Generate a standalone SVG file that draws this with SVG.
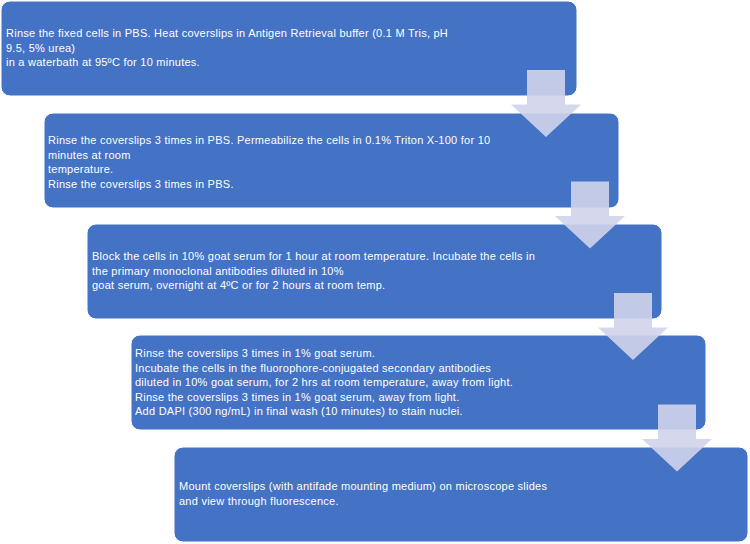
<svg xmlns="http://www.w3.org/2000/svg" width="750" height="544" viewBox="0 0 750 544">
<style>
.box{fill:#4472c4;stroke:#ffffff;stroke-width:1}
.t{font-family:"Liberation Sans",Arial,sans-serif;font-size:11px;letter-spacing:0.25px;fill:#ffffff}
.arr{fill:#d0d4eb;fill-opacity:0.9}
</style>
<rect width="750" height="544" fill="#ffffff"/>
<g id="node1">
<rect class="box" x="1" y="1" width="576" height="95" rx="9"/>
<text class="t"><tspan x="6" y="37">Rinse the fixed cells in PBS. Heat coverslips in Antigen Retrieval buffer (0.1 M Tris, pH</tspan><tspan x="6" y="51.5">9.5, 5% urea)</tspan><tspan x="6" y="66">in a waterbath at 95ºC for 10 minutes.</tspan></text>
</g>
<g id="node2">
<rect class="box" x="44" y="113" width="575" height="95" rx="9"/>
<text class="t"><tspan x="48" y="144">Rinse the coverslips 3 times in PBS. Permeabilize the cells in 0.1% Triton X-100 for 10</tspan><tspan x="48" y="158.5">minutes at room</tspan><tspan x="48" y="173">temperature.</tspan><tspan x="48" y="187.5">Rinse the coverslips 3 times in PBS.</tspan></text>
</g>
<g id="node3">
<rect class="box" x="87" y="224" width="575" height="95" rx="9"/>
<text class="t"><tspan x="92" y="260">Block the cells in 10% goat serum for 1 hour at room temperature. Incubate the cells in</tspan><tspan x="92" y="274.5">the primary monoclonal antibodies diluted in 10%</tspan><tspan x="92" y="289">goat serum, overnight at 4ºC or for 2 hours at room temp.</tspan></text>
</g>
<g id="node4">
<rect class="box" x="131" y="335" width="575" height="95" rx="9"/>
<text class="t"><tspan x="135" y="357">Rinse the coverslips 3 times in 1% goat serum.</tspan><tspan x="135" y="371.5">Incubate the cells in the fluorophore-conjugated secondary antibodies</tspan><tspan x="135" y="386">diluted in 10% goat serum, for 2 hrs at room temperature, away from light.</tspan><tspan x="135" y="400.5">Rinse the coverslips 3 times in 1% goat serum, away from light.</tspan><tspan x="135" y="415">Add DAPI (300 ng/mL) in final wash (10 minutes) to stain nuclei.</tspan></text>
</g>
<g id="node5">
<rect class="box" x="174" y="447" width="574" height="95" rx="9"/>
<text class="t"><tspan x="179" y="490">Mount coverslips (with antifade mounting medium) on microscope slides</tspan><tspan x="179" y="504.5">and view through fluorescence.</tspan></text>
</g>
<g id="connectors">
<path class="arr" d="M527,70 H565 V104.5 H581 L546,137 L511,104.5 H527 Z"/>
<path class="arr" d="M571,181.5 H609 V216 H625 L590,248.5 L555,216 H571 Z"/>
<path class="arr" d="M614,293 H652 V327.5 H668 L633,360 L598,327.5 H614 Z"/>
<path class="arr" d="M658,404.5 H696 V439 H712 L677,471.5 L642,439 H658 Z"/>
</g>
</svg>
